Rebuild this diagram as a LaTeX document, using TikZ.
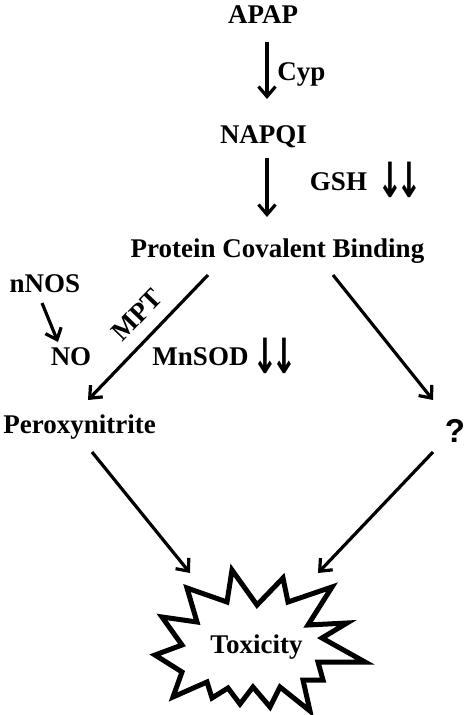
\documentclass[tikz,border=0pt]{standalone}
\usepackage{fontspec}
\setmainfont{Liberation Serif}
\newfontfamily\qfont{Liberation Sans}
\newfontfamily\arrfont{DejaVu Sans}
\usetikzlibrary{arrows.meta}
\tikzset{
  lbl/.style={anchor=base, inner sep=0pt, font=\fontsize{27}{30}\selectfont\bfseries},
  dn/.style={anchor=base, inner sep=0pt, font=\fontsize{27}{30}\selectfont\arrfont\bfseries},
  arr/.style={line width=3.2pt, -{Straight Barb[length=10pt,width=17pt,line width=3.2pt]}},
  burst/.style={line width=5pt, line join=miter, miter limit=10, fill=white}
}
\newcommand{\dblarrow}{\scalebox{1.14}[1.8]{↓\kern-0.24em↓}}
\begin{document}
\begin{tikzpicture}[x=1pt,y=-1pt]
\useasboundingbox (0,0) rectangle (474,715);
\node[lbl] (apap) at (263,23) {APAP};
\node[lbl] (cyp) at (301.5,80) {Cyp};
\node[lbl] (napqi) at (263.5,143) {NAPQI};
\node[lbl] (gsh) at (338.5,190) {GSH};
\node[dn] (gshd) at (400,197) {\dblarrow};
\node[lbl] (pcb) at (277.5,257) {Protein Covalent Binding};
\node[lbl] (nnos) at (45,292) {nNOS};
\node[lbl] (no) at (71,365) {NO};
\node[lbl] (mnsod) at (200.5,365) {MnSOD};
\node[dn] (mnd) at (275,373) {\dblarrow};
\node[lbl, anchor=center, rotate=46] (mpt) at (137,315) {MPT};
\node[lbl] (perox) at (79.5,433) {Peroxynitrite};
\node[lbl, font=\fontsize{33}{36}\selectfont\bfseries\qfont] (q) at (455,442) {?};
% starburst
\draw[burst] (232,570) -- (257,605) -- (283,578) -- (288,602) -- (332,587) -- (308,625)
  -- (347,623) -- (322,638) -- (365,662) -- (318,662) -- (323,680) -- (303,680)
  -- (310,711) -- (280,687) -- (270,707) -- (253,687) -- (240,704) -- (228,688)
  -- (212,698) -- (207,682) -- (173,697) -- (182,672) -- (155,655) -- (182,645)
  -- (162,617) -- (197,622) -- (187,588) -- (227,602) -- cycle;
\node[lbl] (tox) at (256.5,653) {Toxicity};
% connectors
\draw[arr] ([shift={(4,19)}]apap.base) -- ([shift={(3.5,-44)}]napqi.base);
\draw[arr] ([shift={(3.5,15)}]napqi.base) -- ([shift={(-10.5,-40)}]pcb.base);
\draw[arr] ([shift={(-69.5,18)}]pcb.base) -- ([shift={(8.5,-33)}]perox.base);
\draw[arr] ([shift={(55.5,18)}]pcb.base) -- ([shift={(-22,-42)}]q.base);
\draw[arr] ([shift={(-3,11)}]nnos.base) -- ([shift={(-13,-23)}]no.base);
\draw[arr] ([shift={(12.5,19)}]perox.base) -- ([shift={(-66.5,-80)}]tox.base);
\draw[arr] ([shift={(-22,10)}]q.base) -- ([shift={(61.5,-80)}]tox.base);
\end{tikzpicture}
\end{document}
